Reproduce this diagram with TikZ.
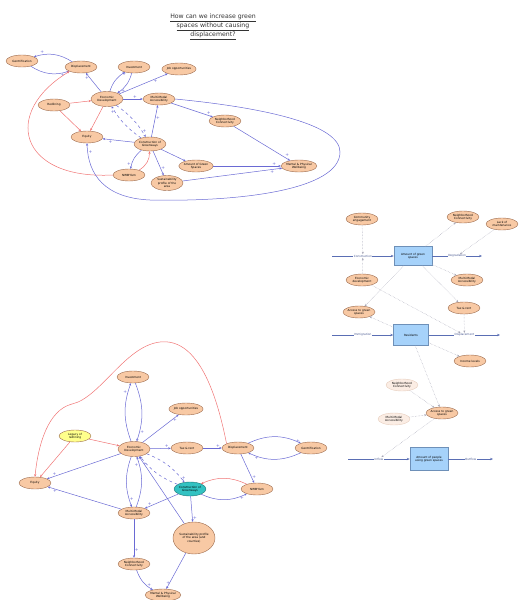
\documentclass[tikz,border=0pt]{standalone}
\usepackage{fontspec}
\setmainfont{DejaVu Sans}
\usetikzlibrary{positioning, arrows.meta, shapes.geometric, calc}
\definecolor{varFill}{HTML}{F8C9A4}
\definecolor{varDraw}{HTML}{9C6B4E}
\definecolor{linkBlue}{HTML}{6A6AD4}
\definecolor{linkRed}{HTML}{F07474}
\definecolor{stockFill}{HTML}{A6D2FA}
\definecolor{stockDraw}{HTML}{6E90B8}
\definecolor{flowBlue}{HTML}{5A6EB4}
\definecolor{teal}{HTML}{33C2C2}
\definecolor{legacyFill}{HTML}{FFFF8C}
\definecolor{ghostFill}{HTML}{FBEDE4}
\definecolor{ghostDraw}{HTML}{E6CDBD}
\definecolor{dotGray}{HTML}{A4A4B4}
\tikzset{
  every node/.style={font=\fontsize{2.85}{3.2}\selectfont},
  var/.style={ellipse, draw=varDraw, fill=varFill, line width=0.4pt, inner sep=0pt,
              minimum width=32, minimum height=12, align=center},
  legacy/.style={var, fill=legacyFill},
  greenway/.style={var, fill=teal, draw=teal!60!black},
  ghost/.style={var, fill=ghostFill, draw=ghostDraw},
  stock/.style={draw=stockDraw, fill=stockFill, line width=0.5pt, align=center,
                minimum width=38, minimum height=19, inner sep=1pt},
  poslink/.style={-{Stealth[length=2.6pt,width=2.2pt]}, draw=linkBlue, line width=0.5pt},
  neglink/.style={-{Stealth[length=2.6pt,width=2.2pt]}, draw=linkRed, line width=0.5pt},
  posdash/.style={poslink, dashed},
  dotlink/.style={-{Stealth[length=2.4pt,width=2pt]}, draw=dotGray, densely dotted, line width=0.45pt},
  flow/.style={-{Stealth[length=3pt,width=2.4pt]}, draw=flowBlue, line width=0.6pt},
  valve/.style={fill=white, inner sep=0.4pt, text=flowBlue!80!black},
  plus/.style={font=\fontsize{4.4}{4.4}\selectfont, text=linkBlue, inner sep=0.6pt},
}
\begin{document}
\begin{tikzpicture}[x=1pt, y=-1pt]
  \useasboundingbox (0,0) rectangle (525,600);
  % question
  \node[align=center, font=\fontsize{6.2}{9}\selectfont, text=black!80] (title) at (213,27)
    {\underline{How can we increase green}\\\underline{spaces without causing}\\\underline{displacement?}};

  % ---- first causal loop diagram ----
  \node[var] (gen1) at (22,61) {Gentrification};
  \node[var] (dis1) at (81,67) {Displacement};
  \node[var] (inv1) at (134,67) {Investment};
  \node[var] (job1) at (179,69) {Job opportunities};
  \node[var, minimum height=15] (eco1) at (107,99) {Economic\\Development};
  \node[var] (red1) at (54,105) {Redlining};
  \node[var] (mma1) at (159,99) {Multi-Modal\\Accessibility};
  \node[var] (nc1) at (225,121) {Neighborhood\\Connectivity};
  \node[var] (equ1) at (87,137) {Equity};
  \node[var, minimum height=14] (con1) at (150,144) {Construction of\\Greenways};
  \node[var] (ags1) at (196,166) {Amount of Green\\Spaces};
  \node[var, minimum width=34] (mpw1) at (299,166) {Mental \& Physical\\Wellbeing};
  \node[var] (nim1) at (129,175) {NIMBYism};
  \node[var, minimum height=15] (sus1) at (167,183) {Sustainability\\profile of the\\area};

  \draw[poslink] (dis1) to[bend right=25] node[plus, pos=0.8, above] {+} (gen1);
  \draw[poslink] (gen1) to[bend right=25] node[plus, pos=0.85, below] {+} (dis1);
  \draw[poslink] (eco1) -- node[plus, pos=0.75, left] {+} (dis1);
  \draw[poslink] (eco1) to[bend left=20] node[plus, pos=0.85, right] {+} (inv1);
  \draw[poslink] (inv1) to[bend left=20] node[plus, pos=0.85, right] {+} (eco1);
  \draw[poslink] (eco1) -- node[plus, pos=0.75, below] {+} (job1);
  \draw[poslink] (eco1) -- node[plus, pos=0.6, above] {+} (mma1);
  \draw[neglink] (red1) -- (eco1);
  \draw[neglink] (red1) -- (equ1);
  \draw[neglink] (eco1) -- (equ1);
  \draw[neglink] (nim1.west) .. controls (18,180) and (2,112) .. (dis1.south west);
  \draw[posdash] (con1) to[bend left=12] node[plus, pos=0.85, left] {+} (eco1);
  \draw[posdash] (eco1) to[bend left=12] node[plus, pos=0.85, right] {+} (con1);
  \draw[poslink] (con1) -- node[plus, pos=0.75, below] {+} (equ1);
  \draw[poslink] (con1) -- node[plus, pos=0.6, right] {+} (mma1);
  \draw[poslink] (mma1) -- node[plus, pos=0.9, above] {+} (nc1);
  \draw[poslink] (nc1) -- node[plus, pos=0.9, above right] {+} (mpw1);
  \draw[poslink] (con1) -- (ags1);
  \draw[poslink] (ags1) -- node[plus, pos=0.9, above] {+} (mpw1);
  \draw[poslink] (sus1) -- node[plus, pos=0.9, below] {+} (mpw1);
  \draw[poslink] (con1) -- node[plus, pos=0.7, right] {+} (sus1);
  \draw[poslink] (con1) to[bend right=20] node[plus, pos=0.8, left] {+} (nim1);
  \draw[neglink] (nim1) to[bend right=30] (con1);
  \draw[poslink] (mma1.east) .. controls (268,108) and (340,125) .. (340,152)
    .. controls (340,190) and (240,202) .. (150,200)
    .. controls (105,198) and (88,175) .. node[plus, pos=0.9, right] {+} (equ1.south);

  % ---- stocks and flows ----
  \node[var] (ce2) at (362,219) {Community\\engagement};
  \node[var] (nc2) at (463,217) {Neighborhood\\Connectivity};
  \node[var] (lm2) at (502,224) {Lack of\\maintenance};
  \node[stock] (ags2) at (413,256) {Amount of green\\spaces};
  \node[var] (ed2) at (362,280) {Economic\\development};
  \node[var] (mma2) at (467,280) {Multi-Modal\\Accessibility};
  \node[var] (acc2) at (359,312) {Access to green\\spaces};
  \node[var] (tax2) at (464,308) {Tax \& rent};
  \node[stock, minimum width=35, minimum height=21] (res2) at (411,335) {Residents};
  \node[var] (inc2) at (470,361) {Income levels};
  \node[ghost] (nc3) at (402,385) {Neighborhood\\Connectivity};
  \node[ghost] (mma3) at (394,419) {Multi-Modal\\Accessibility};
  \node[var] (acc3) at (442,413) {Access to green\\spaces};
  \node[stock, minimum height=23] (peo2) at (429,459) {Amount of people\\using green spaces};

  \coordinate (src1) at (332,256);
  \coordinate (snk1) at (482,256);
  \coordinate (src2) at (332,335);
  \coordinate (snk2) at (500,335);
  \coordinate (src3) at (348,459);
  \coordinate (snk3) at (493,459);
  \draw[flow] (src1) -- node[valve] (vin1) {Construction} (ags2);
  \draw[flow] (ags2) -- node[valve] (vout1) {Degradation} (snk1);
  \draw[flow] (src2) -- node[valve] (vin2) {Immigration} (res2);
  \draw[flow] (res2) -- node[valve] (vout2) {Displacement} (snk2);
  \draw[flow] (src3) -- node[valve] (vin3) {Inflow} (peo2);
  \draw[flow] (peo2) -- node[valve] (vout3) {Outflow} (snk3);

  \draw[dotlink] (ce2) -- (vin1);
  \draw[dotlink] (ed2) -- (vin1);
  \draw[dotlink] (ags2) -- (nc2);
  \draw[dotlink] (lm2) -- (vout1);
  \draw[dotlink] (ags2) -- (mma2);
  \draw[dotlink] (ags2) -- (tax2);
  \draw[dotlink] (ags2) -- (acc2);
  \draw[dotlink] (ed2) -- (vout2);
  \draw[dotlink] (res2) -- (acc2);
  \draw[dotlink] (tax2) -- (vout2);
  \draw[dotlink] (res2) -- (inc2);
  \draw[dotlink] (res2) -- (acc3);
  \draw[dotlink] (nc3) -- (acc3);
  \draw[dotlink] (mma3) -- (acc3);
  \draw[dotlink] (acc3) -- (vin3);

  % ---- second causal loop diagram ----
  \node[var] (inv3) at (133,377) {Investment};
  \node[var] (job3) at (186,409) {Job opportunities};
  \node[legacy] (leg3) at (75,436) {Legacy of\\redlining};
  \node[var, minimum height=15] (eco3) at (134,449) {Economic\\Development};
  \node[var] (tax3) at (187,448) {Tax \& rent};
  \node[var] (dis3) at (238,448) {Displacement};
  \node[var] (gen3) at (311,448) {Gentrification};
  \node[var] (equ3) at (35,483) {Equity};
  \node[greenway, minimum height=14] (con3) at (190,489) {Construction of\\Greenways};
  \node[var] (nim3) at (257,489) {NIMBYism};
  \node[var] (mma4) at (134,513) {Multi-Modal\\Accessibility};
  \node[var, minimum width=42, minimum height=32] (sus3) at (194,538)
    {Sustainability profile\\of the area (and\\counties)};
  \node[var] (nc4) at (134,564) {Neighborhood\\Connectivity};
  \node[var, minimum width=34] (mpw3) at (163,595) {Mental \& Physical\\Wellbeing};

  \draw[neglink] (leg3) -- (eco3);
  \draw[neglink] (leg3) -- (equ3);
  \draw[neglink] (dis3.north west) .. controls (215,385) and (195,338) .. (160,342)
    .. controls (125,346) and (100,398) .. (72,404)
    .. controls (48,410) and (38,445) .. (equ3.north);
  \draw[poslink] (eco3) to[bend left=20] node[plus, pos=0.85, left] {+} (inv3);
  \draw[poslink] (inv3) to[bend left=20] node[plus, pos=0.85, right] {+} (eco3);
  \draw[poslink] (eco3) -- node[plus, pos=0.9, below] {+} (job3);
  \draw[poslink] (eco3) -- node[plus, pos=0.8, above] {+} (tax3);
  \draw[poslink] (tax3) -- node[plus, pos=0.8, above] {+} (dis3);
  \draw[poslink] (dis3) -- node[plus, pos=0.8, right] {+} (nim3);
  \draw[poslink] (dis3) to[bend left=25] node[plus, pos=0.9, right] {+} (gen3);
  \draw[poslink] (gen3) to[bend left=25] node[plus, pos=0.85, below] {+} (dis3);
  \draw[neglink] (nim3) to[bend right=25] (con3);
  \draw[poslink] (con3) to[bend right=25] node[plus, pos=0.9, below] {+} (nim3);
  \draw[poslink] (eco3) -- node[plus, pos=0.9, above] {+} (equ3);
  \draw[posdash] (con3) to[bend left=15] node[plus, pos=0.85, below] {+} (eco3);
  \draw[posdash] (eco3) to[bend left=15] node[plus, pos=0.9, right] {+} (con3);
  \draw[poslink] (con3) -- node[plus, pos=0.85, above] {+} (mma4);
  \draw[poslink] (eco3) to[bend right=20] node[plus, pos=0.85, right] {+} (mma4);
  \draw[poslink] (mma4) to[bend right=20] node[plus, pos=0.85, left] {+} (eco3);
  \draw[poslink] (mma4) -- node[plus, pos=0.9, below] {+} (equ3);
  \draw[poslink] (con3) -- node[plus, pos=0.85, right] {+} (sus3);
  \draw[poslink] (sus3) -- (eco3);
  \draw[poslink] (mma4) -- node[plus, pos=0.8, right] {+} (nc4);
  \draw[poslink] (nc4) to[bend right=20] node[plus, pos=0.85, above] {+} (mpw3);
  \draw[poslink] (sus3) -- node[plus, pos=0.9, above] {+} (mpw3);
\end{tikzpicture}
\end{document}
